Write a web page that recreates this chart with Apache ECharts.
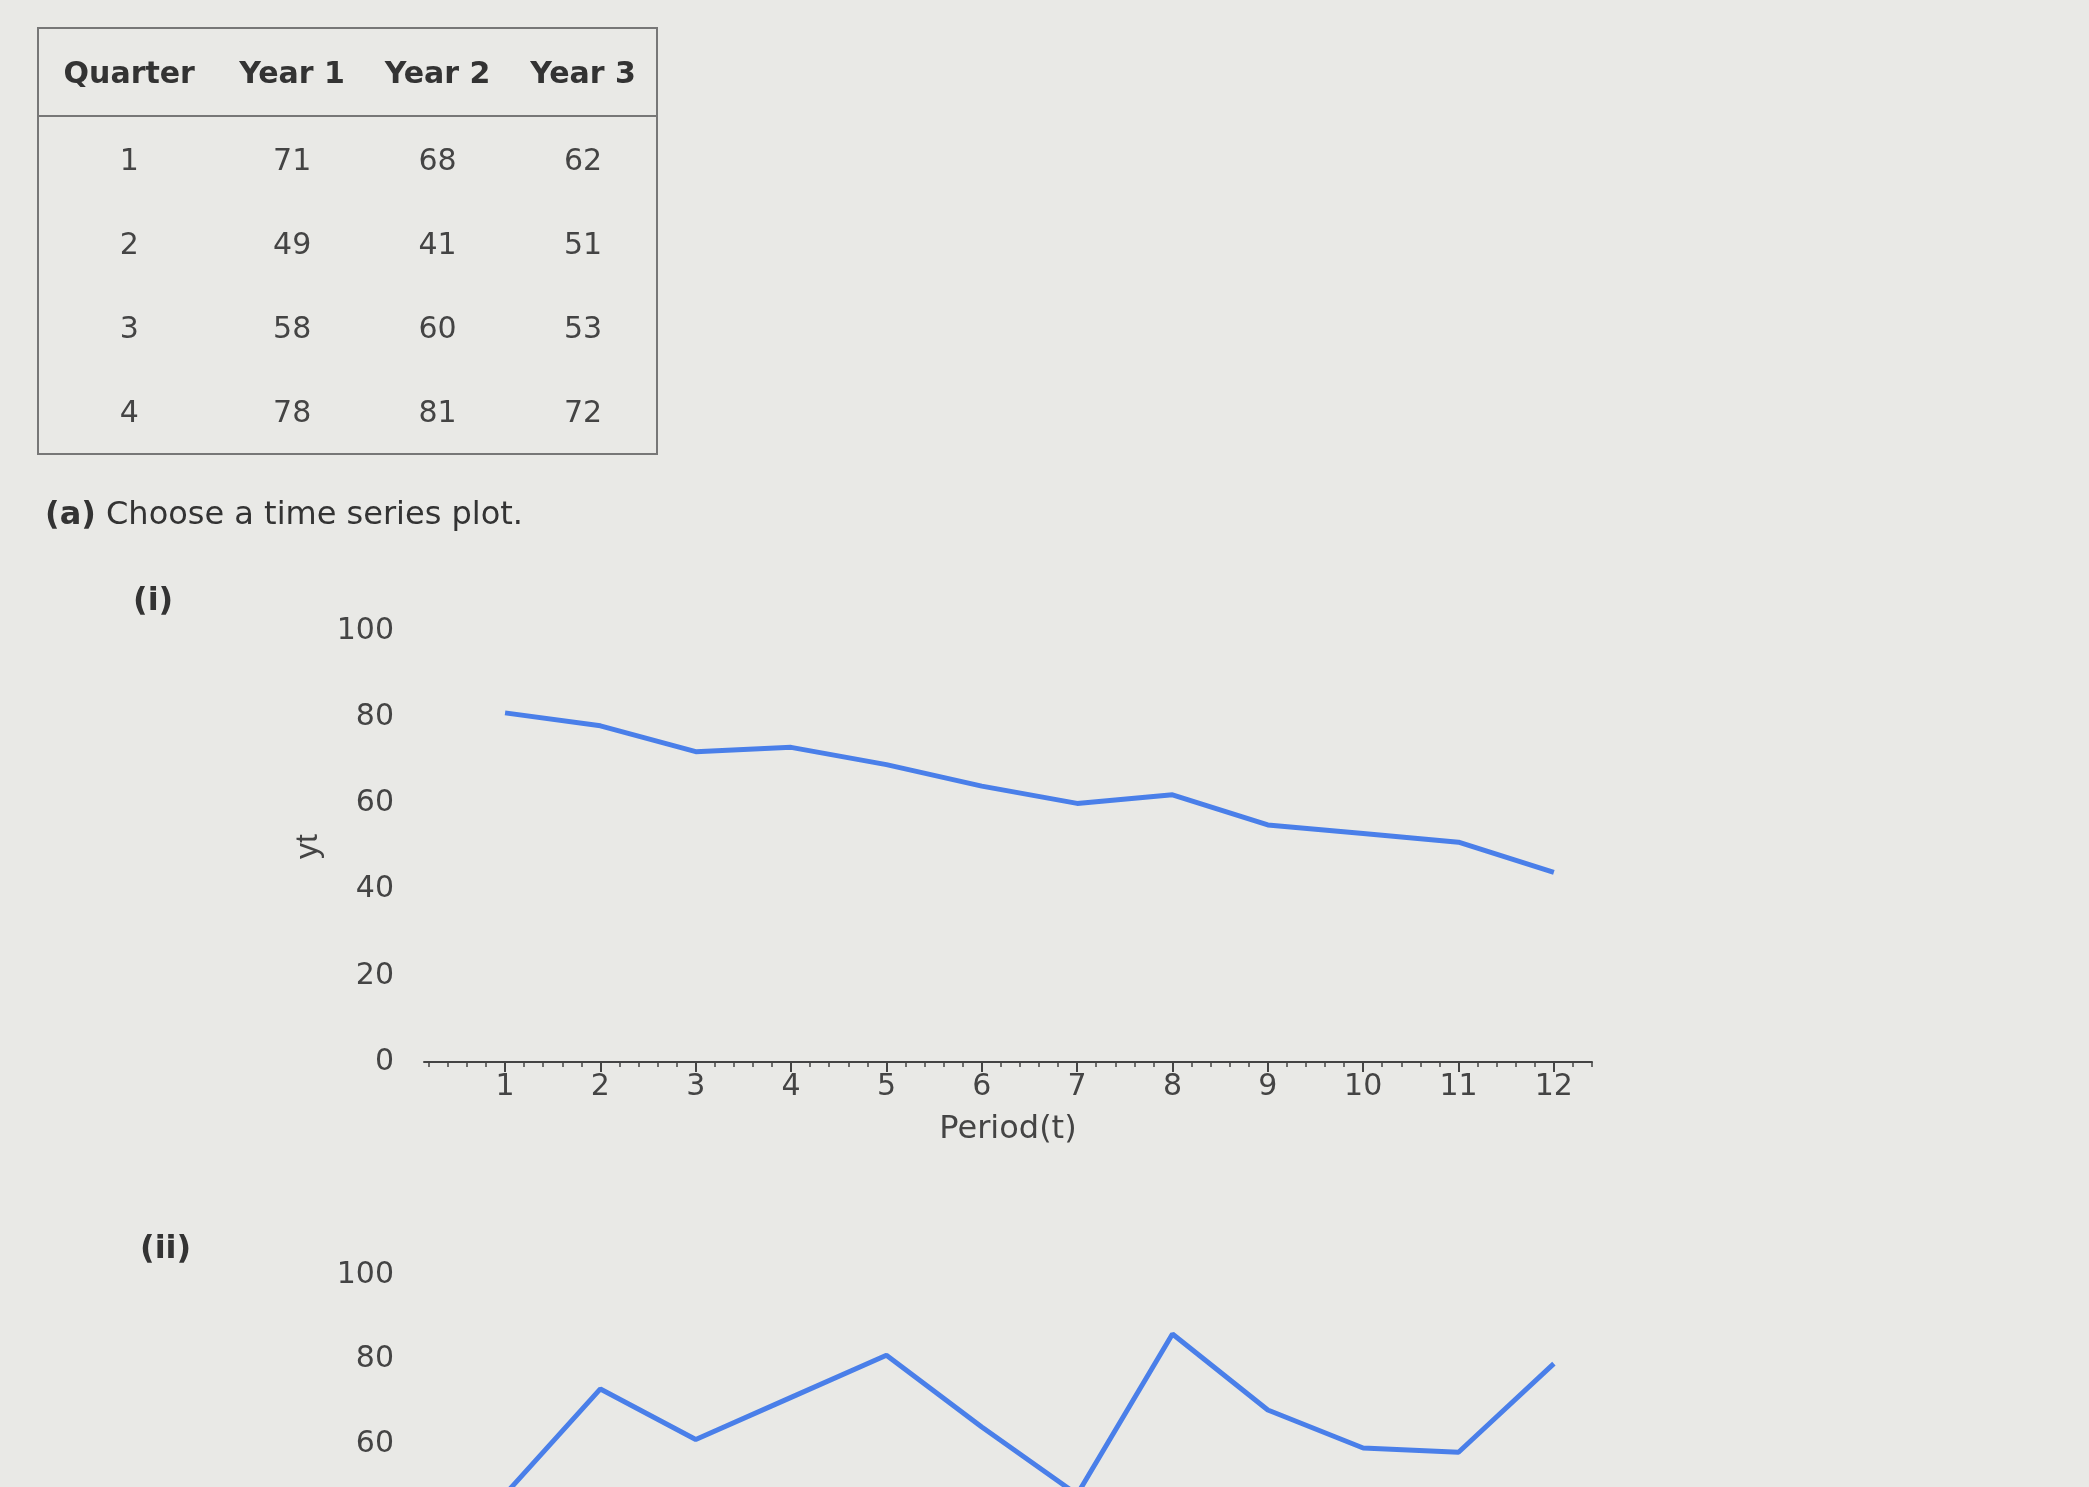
<!DOCTYPE html>
<html><head><meta charset="utf-8">
<script src="https://cdn.jsdelivr.net/npm/echarts@6/dist/echarts.min.js"></script>
<style>
html,body{margin:0;padding:0;width:2089px;height:1487px;overflow:hidden;background:#e9e9e6;font-family:"DejaVu Sans",Verdana,sans-serif;color:#333}
#tbl{position:absolute;left:37px;top:27px;width:621px;height:417px;border-collapse:collapse;border:2px solid #777;font-size:30px;z-index:2}
#tbl th{font-weight:bold;height:84px;border-bottom:2px solid #777;text-align:center;color:#333}
#tbl td{text-align:center;height:82px;color:#444}
.t{position:absolute;font-size:32px;color:#333;z-index:2}
#c{position:absolute;left:0;top:0;width:2089px;height:1760px}
</style></head><body>
<table id="tbl"></table>
<div class="t" style="left:45px;top:494px"><b>(a)</b> Choose a time series plot.</div>
<div class="t" style="left:133px;top:580px"><b>(i)</b></div>
<div class="t" style="left:140px;top:1228px"><b>(ii)</b></div>
<div id="c"></div>
<script>
const headers=["Quarter","Year 1","Year 2","Year 3"];
const quarters=[1,2,3,4];
const year1=[71,49,58,78];
const year2=[68,41,60,81];
const year3=[62,51,53,72];
const periods=[1,2,3,4,5,6,7,8,9,10,11,12];
const plotI=[81,78,72,73,69,64,60,62,55,53,51,44];
const plotII=[48,73,61,71,81,64,48,86,68,59,58,79];
const yTicks=[0,20,40,60,80,100];

let h='<tr>'+headers.map(x=>'<th>'+x+'</th>').join('')+'</tr>';
quarters.forEach((q,i)=>{h+='<tr><td>'+q+'</td><td>'+year1[i]+'</td><td>'+year2[i]+'</td><td>'+year3[i]+'</td></tr>';});
document.getElementById('tbl').innerHTML=h;

const minor=[];for(let v=0.2;v<12.41;v+=0.2)minor.push(+v.toFixed(2));
const ch=echarts.init(document.getElementById('c'));
const lineC='#4a7fe9';
function xa(g,show){return [{type:'value',gridIndex:g,min:0.15,max:12.4,position:'bottom',
  axisLine:{show:show,lineStyle:{color:'#444',width:2}},splitLine:{show:false},
  axisTick:{show:show,customValues:periods,length:10,lineStyle:{color:'#444',width:2}},
  axisLabel:{show:show,customValues:periods,fontSize:30,color:'#444',margin:10,fontFamily:'DejaVu Sans'},
  name:show?'Period(t)':'',nameLocation:'middle',nameGap:52,nameTextStyle:{fontSize:32,color:'#444',fontFamily:'DejaVu Sans'}},
 {type:'value',gridIndex:g,min:0.15,max:12.4,position:'bottom',axisLine:{show:false},splitLine:{show:false},axisLabel:{show:false},
  axisTick:{show:show,customValues:minor,length:5,lineStyle:{color:'#444',width:1.5}}}];}
function ya(g,nm){return {type:'value',gridIndex:g,min:0,max:100,interval:20,axisLine:{show:false},axisTick:{show:false},splitLine:{show:false},
  axisLabel:{customValues:yTicks,fontSize:30,color:'#444',margin:30,fontFamily:'DejaVu Sans'},
  name:nm,nameLocation:'middle',nameGap:100,nameRotate:90,nameTextStyle:{fontSize:32,color:'#444'}};}
ch.setOption({animation:false,
 grid:[{left:424,top:631,width:1168,height:431},{left:424,top:1275,width:1168,height:422}],
 xAxis:[...xa(0,true),...xa(1,false)],
 yAxis:[ya(0,'yt'),ya(1,'')],
 series:[
  {type:'line',xAxisIndex:0,yAxisIndex:0,data:periods.map((p,i)=>[p,plotI[i]]),showSymbol:false,lineStyle:{color:lineC,width:5}},
  {type:'line',xAxisIndex:2,yAxisIndex:1,data:periods.map((p,i)=>[p,plotII[i]]),showSymbol:false,lineStyle:{color:lineC,width:5}}
 ]});
</script></body></html>
